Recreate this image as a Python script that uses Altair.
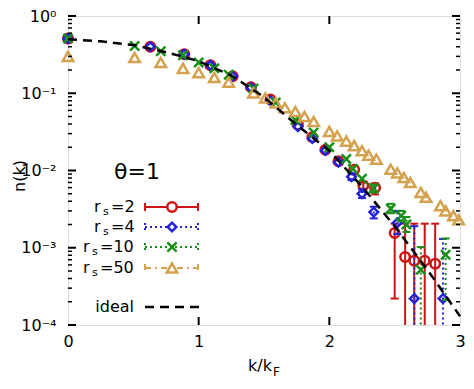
import altair as alt
import pandas as pd

# ---------------- data ----------------
k_rs2 = [0.00, 0.63, 0.89, 1.09, 1.26, 1.40, 1.55, 1.76, 1.87, 1.97, 2.07, 2.19, 2.26, 2.35, 2.50, 2.58, 2.65, 2.73, 2.81]
n_rs2 = [0.51, 0.40, 0.32, 0.23, 0.166, 0.120, 0.083, 0.039, 0.027, 0.0186, 0.0132, 0.0102, 0.0064, 0.0060, 0.00155, 0.00076, 0.00068, 0.00068, 0.00062]
lo_rs2 = [0.51, 0.40, 0.32, 0.23, 0.166, 0.120, 0.083, 0.039, 0.027, 0.0186, 0.0132, 0.0102, 0.0058, 0.0049, 0.00022, 1e-6, 1e-6, 1e-6, 1e-6]
hi_rs2 = [0.51, 0.40, 0.32, 0.23, 0.166, 0.120, 0.083, 0.039, 0.027, 0.0186, 0.0132, 0.0102, 0.0070, 0.0068, 0.00205, 0.00205, 0.00205, 0.00205, 0.00205]

k_rs4 = [0.00, 0.63, 0.89, 1.09, 1.26, 1.40, 1.55, 1.76, 1.87, 1.97, 2.07, 2.17, 2.25, 2.34, 2.52, 2.65, 2.87]
n_rs4 = [0.51, 0.40, 0.32, 0.23, 0.166, 0.118, 0.080, 0.037, 0.026, 0.0182, 0.0128, 0.0083, 0.0050, 0.0029, 0.0021, 0.00022, 0.00022]
lo_rs4 = [0.51, 0.40, 0.32, 0.23, 0.166, 0.118, 0.080, 0.037, 0.026, 0.0182, 0.0128, 0.0075, 0.0044, 0.0024, 0.0015, 1e-6, 1e-6]
hi_rs4 = [0.51, 0.40, 0.32, 0.23, 0.166, 0.118, 0.080, 0.037, 0.026, 0.0182, 0.0128, 0.0092, 0.0057, 0.0034, 0.0030, 0.0019, 0.0013]

k_rs10 = [0.00, 0.51, 0.71, 0.88, 1.00, 1.12, 1.23, 1.42, 1.59, 1.74, 1.88, 2.00, 2.13, 2.18, 2.25, 2.34, 2.47, 2.55, 2.59, 2.70, 2.89]
n_rs10 = [0.51, 0.41, 0.35, 0.31, 0.25, 0.21, 0.174, 0.115, 0.076, 0.045, 0.031, 0.020, 0.0141, 0.0105, 0.0078, 0.0059, 0.0032, 0.0026, 0.0020, 0.00052, 0.00081]
lo_rs10 = [0.51, 0.41, 0.35, 0.31, 0.25, 0.21, 0.174, 0.115, 0.076, 0.045, 0.031, 0.020, 0.0141, 0.0105, 0.0078, 0.0052, 0.0028, 0.0022, 0.0016, 1e-6, 0.00021]
hi_rs10 = [0.51, 0.41, 0.35, 0.31, 0.25, 0.21, 0.174, 0.115, 0.076, 0.045, 0.031, 0.020, 0.0141, 0.0105, 0.0078, 0.0066, 0.0037, 0.0030, 0.0025, 0.00102, 0.00132]

k_rs50 = [0.00, 0.51, 0.71, 0.88, 1.00, 1.12, 1.23, 1.42, 1.51, 1.59, 1.66, 1.74, 1.81, 1.88, 2.00, 2.06,
          2.13, 2.19, 2.25, 2.30, 2.36, 2.47, 2.52, 2.57, 2.62, 2.70, 2.74, 2.85, 2.89, 2.95, 2.99]
n_rs50 = [0.30, 0.29, 0.25, 0.21, 0.185, 0.160, 0.139, 0.101, 0.087, 0.075, 0.065, 0.058, 0.050, 0.043, 0.032, 0.028,
          0.024, 0.021, 0.018, 0.0158, 0.014, 0.0104, 0.0093, 0.0081, 0.0070, 0.0052, 0.0045, 0.0035, 0.0030, 0.0026, 0.0023]

k_ideal = [0.0, 0.25, 0.5, 0.75, 1.0, 1.25, 1.5, 1.75, 2.0, 2.25, 2.5, 2.75, 3.0]
n_ideal = [0.50, 0.47, 0.42, 0.34, 0.26, 0.17, 0.089, 0.039, 0.018, 0.0062, 0.0019, 0.00052, 0.00013]

x_ticks = [0, 1, 2, 3]
y_ticks = [1, 0.1, 0.01, 0.001, 0.0001]
y_minor = [m * 10.0 ** d for d in (-4, -3, -2, -1) for m in range(2, 10)]

legend_labels = ["=2", "=4", "=10", "=50"]

# ---------------- styling ----------------
FONT = "DejaVu Sans"
W, H = 392, 309
RED, BLUE, GREEN, ORANGE = "#cc1414", "#2222dd", "#189018", "#d4a24e"
X_PATH = "M-1,-1L1,1M-1,1L1,-1"
MSW = 2.5

xs = alt.Scale(domain=[0, 3], nice=False, zero=False)
ys = alt.Scale(type="log", domain=[1e-4, 1], nice=False)
xaxis = alt.Axis(values=x_ticks, format="d", title=None, ticks=False, domain=False, grid=False,
                 labelFont=FONT, labelFontSize=16, labelPadding=8, labelColor="black",
                 labelFlush=False, labelOverlap=False)
yexpr = ("datum.value >= 0.5 ? '10⁰' : datum.value >= 0.05 ? '10⁻¹' : "
         "datum.value >= 0.005 ? '10⁻²' : datum.value >= 0.0005 ? '10⁻³' : '10⁻⁴'")
yaxis = alt.Axis(values=y_ticks, labelExpr=yexpr, title=None, ticks=False, domain=False, grid=False,
                 labelFont=FONT, labelFontSize=16, labelPadding=12, labelColor="black",
                 labelFlush=False, labelOverlap=False)


def X(f="k"):
    return alt.X(f"{f}:Q", scale=xs, axis=xaxis)


def Y(f):
    return alt.Y(f"{f}:Q", scale=ys, axis=yaxis)


def series(k, n, lo, hi, color, shape, size, dash):
    df = pd.DataFrame({"k": k, "n": n, "lo": lo, "hi": hi})
    base = alt.Chart(df)
    eb = base.transform_filter("datum.hi > datum.lo")
    rule_kw = dict(color=color, strokeWidth=2, clip=True)
    if dash:
        rule_kw["strokeDash"] = dash
    err = eb.mark_rule(**rule_kw).encode(x=X(), y=Y("lo"), y2="hi:Q")
    cap_hi = eb.mark_tick(color=color, orient="horizontal", size=8, thickness=2, clip=True,
                          opacity=1).encode(x=X(), y=Y("hi"))
    cap_lo = eb.mark_tick(color=color, orient="horizontal", size=8, thickness=2, clip=True,
                          opacity=1).encode(x=X(), y=Y("lo"))
    pts = base.mark_point(shape=shape, filled=False, color=color, strokeWidth=MSW, size=size,
                          opacity=1).encode(x=X(), y=Y("n"))
    return [err, cap_hi, cap_lo, pts]


layers = []
layers += series(k_rs2, n_rs2, lo_rs2, hi_rs2, RED, "circle", 90, None)
layers += series(k_rs4, n_rs4, lo_rs4, hi_rs4, BLUE, "diamond", 75, [2, 3])
layers += series(k_rs10, n_rs10, lo_rs10, hi_rs10, GREEN, X_PATH, 85, [2, 3])
layers += series(k_rs50, n_rs50, n_rs50, n_rs50, ORANGE, "triangle-up", 110, [6, 4, 2, 4])

ideal = alt.Chart(pd.DataFrame({"k": k_ideal, "n": n_ideal})).mark_line(
    color="black", strokeWidth=2.5, strokeDash=[9, 6]).encode(x=X(), y=Y("n"))
layers.append(ideal)

# ---- inward ticks (gnuplot style, all four sides) ----
ymaj = alt.Chart(pd.DataFrame({"v": y_ticks}))
ymin = alt.Chart(pd.DataFrame({"v": y_minor}))
for x0, x1 in ((0, 8), (W - 8, W)):
    layers.append(ymaj.mark_rule(color="black", strokeWidth=2).encode(
        y=Y("v"), x=alt.value(x0), x2=alt.value(x1)))
for x0, x1 in ((0, 4), (W - 4, W)):
    layers.append(ymin.mark_rule(color="black", strokeWidth=1.5).encode(
        y=Y("v"), x=alt.value(x0), x2=alt.value(x1)))
xmaj = alt.Chart(pd.DataFrame({"v": [1, 2]}))
for y0, y1 in ((H - 8, H), (0, 8)):
    layers.append(xmaj.mark_rule(color="black", strokeWidth=2).encode(
        x=X("v"), y=alt.value(y0), y2=alt.value(y1)))

# ---- custom legend ----
one = alt.Chart(pd.DataFrame({"a": [0]}))
rows = [191, 211, 231, 252]
colors = [RED, BLUE, GREEN, ORANGE]
shapes = ["circle", "diamond", X_PATH, "triangle-up"]
sizes = [90, 75, 85, 110]
dashes = [None, [2, 3], [2, 3], [6, 4, 2, 4]]
starts = [26, 26, 15, 15]
LX0, LX1, LXM = 77, 130, 104
for yy, c, sh, sz, ds, lab, x0 in zip(rows, colors, shapes, sizes, dashes, legend_labels, starts):
    kw = dict(color=c, strokeWidth=2)
    if ds:
        kw["strokeDash"] = ds
    layers.append(one.mark_rule(**kw).encode(x=alt.value(LX0), x2=alt.value(LX1), y=alt.value(yy)))
    for xc in (LX0, LX1):
        layers.append(one.mark_rule(**kw).encode(x=alt.value(xc), y=alt.value(yy - 4), y2=alt.value(yy + 4)))
    layers.append(one.mark_point(shape=sh, filled=True, color="white", size=sz, opacity=1).encode(
        x=alt.value(LXM), y=alt.value(yy)))
    layers.append(one.mark_point(shape=sh, filled=False, color=c, strokeWidth=MSW, size=sz, opacity=1).encode(
        x=alt.value(LXM), y=alt.value(yy)))
    layers.append(one.mark_text(text="r", font=FONT, fontSize=16, align="left", baseline="alphabetic",
                                color="black").encode(x=alt.value(x0), y=alt.value(yy + 5)))
    layers.append(one.mark_text(text="s", font=FONT, fontSize=11, align="left", baseline="alphabetic",
                                color="black").encode(x=alt.value(x0 + 9), y=alt.value(yy + 8)))
    layers.append(one.mark_text(text=lab, font=FONT, fontSize=16, align="left", baseline="alphabetic",
                                color="black").encode(x=alt.value(x0 + 17), y=alt.value(yy + 5)))

layers.append(one.mark_rule(color="black", strokeWidth=2.5, strokeDash=[9, 6]).encode(
    x=alt.value(LX0), x2=alt.value(LX1 + 3), y=alt.value(291)))
layers.append(one.mark_text(text="ideal", font=FONT, fontSize=16, align="right", baseline="alphabetic",
                            color="black").encode(x=alt.value(66), y=alt.value(296)))

# ---- annotations and axis titles ----
layers.append(one.mark_text(text="θ=1", font=FONT, fontSize=22, align="left", baseline="middle",
                            color="black").encode(x=alt.value(46), y=alt.value(156)))
layers.append(one.mark_text(text="n(k)", font=FONT, fontSize=16, angle=270, align="center",
                            baseline="middle", color="black").encode(x=alt.value(-48), y=alt.value(160)))
layers.append(one.mark_text(text="k/k", font=FONT, fontSize=16, align="left", baseline="alphabetic",
                            color="black").encode(x=alt.value(180), y=alt.value(355)))
layers.append(one.mark_text(text="F", font=FONT, fontSize=12, align="left", baseline="alphabetic",
                            color="black").encode(x=alt.value(205), y=alt.value(360)))

chart = alt.layer(*layers).properties(
    width=W, height=H,
    autosize=alt.AutoSizeParams(type="none"),
    padding={"left": 60, "top": 8, "right": 6, "bottom": 56},
).configure_view(stroke="black", strokeWidth=2).configure(background="white")

chart.save("out.html", embed_options={"renderer": "svg", "actions": False})
